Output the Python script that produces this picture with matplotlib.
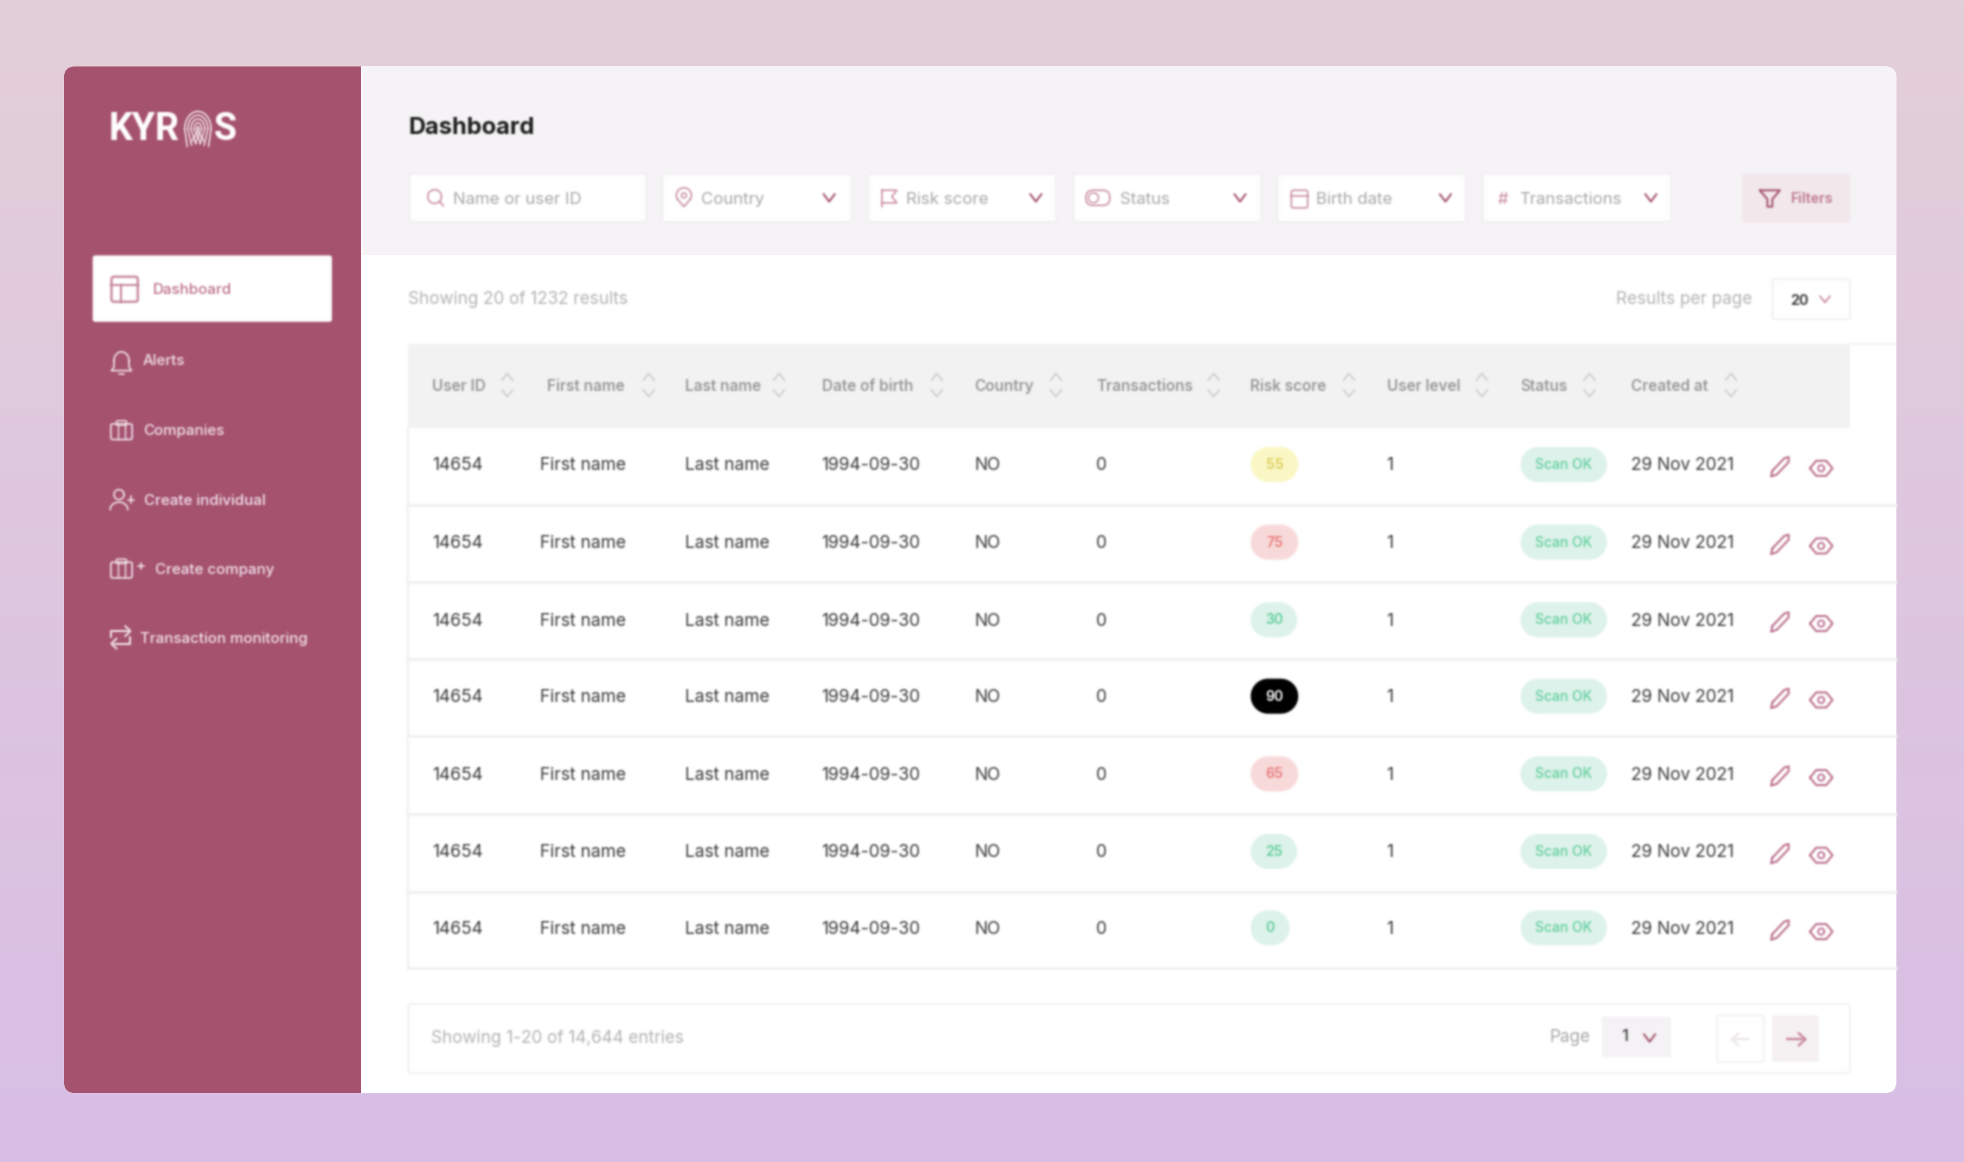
import matplotlib
matplotlib.use("Agg")
import matplotlib.pyplot as plt
import numpy as np
from matplotlib.patches import FancyBboxPatch, Rectangle, Polygon

plt.rcParams['font.family'] = ['Inter', 'DejaVu Sans']

#---------------- table content
user_ids = ["14654"] * 7
first_names = ["First name"] * 7
last_names = ["Last name"] * 7
birth_dates = ["1994-09-30"] * 7
countries = ["NO"] * 7
transactions = ["0"] * 7
risk_scores = [55, 75, 30, 90, 65, 25, 0]
user_levels = ["1"] * 7
statuses = ["Scan OK"] * 7
created = ["29 Nov 2021"] * 7

headers = ["User ID", "First name", "Last name", "Date of birth", "Country",
           "Transactions", "Risk score", "User level", "Status", "Created at"]
header_x = [345, 437, 547, 656, 778, 875, 998, 1107, 1214, 1302]
sort_x = [405, 518, 622, 748, 843, 969, 1077, 1183, 1269, 1382]
row_y = [371, 433, 495, 556, 618, 680, 741]
row_lines = [403, 465, 526, 588, 650, 712, 773]

menu_labels = ["Alerts", "Companies", "Create individual", "Create company", "Transaction monitoring"]
menu_x = [114, 114, 115, 124, 112]
menu_y = [288, 344, 400, 455, 510]

filter_labels = ["Name or user ID", "Country", "Risk score", "Status", "Birth date", "Transactions"]
filter_left = [327, 529, 693, 857, 1020, 1184]
filter_right = [516, 680, 843, 1007, 1170, 1334]
filter_text_x = [362, 560, 723, 894, 1051, 1213]
chevron_x = [662, 827, 990, 1154, 1318]

ROSE = "#a5526f"
ROSE_LT = "#c98aa2"
DARK = "#3a3a3a"
GREY = "#a8a8a8"
HEAD = "#9a9a9a"
LINE = "#f0f0f0"
GREEN_BG, GREEN_TX = "#def3ea", "#63cf9f"
RED_BG, RED_TX = "#f9dada", "#e87c7c"
YEL_BG, YEL_TX = "#fbf8c6", "#dccf5c"


def badge_colors(score):
    if score >= 80:
        return "#000000", "#ffffff"
    if score >= 60:
        return RED_BG, RED_TX
    if score >= 50:
        return YEL_BG, YEL_TX
    return GREEN_BG, GREEN_TX


#---------------- soft blur, the reference is a blurry screenshot
def gauss(a, sigma):
    r = int(3 * sigma) + 1
    k = np.exp(-0.5 * (np.arange(-r, r + 1) / sigma) ** 2)
    k = k / k.sum()
    a = np.apply_along_axis(lambda m: np.convolve(m, k, mode="same"), 0, a)
    a = np.apply_along_axis(lambda m: np.convolve(m, k, mode="same"), 1, a)
    return a


def blur(im, dpi):
    pad = 6
    im = np.pad(im, [(pad, pad), (pad, pad), (0, 0)], "constant")
    alpha = gauss(im[:, :, 3], 1.0)
    out = np.zeros_like(im)
    for c in range(3):
        out[:, :, c] = gauss(im[:, :, c] * im[:, :, 3], 1.0) / np.maximum(alpha, 1e-4)
    out[:, :, 3] = alpha
    return np.clip(out, 0, 1), -pad, -pad


fig = plt.figure(figsize=(19.64, 11.62), dpi=100)
ax = fig.add_axes([0, 0, 1, 1])
ax.axis("off")

# page background
top = np.array([0xe3, 0xcf, 0xd9]) / 255
bottom = np.array([0xd8, 0xbe, 0xe5]) / 255
grad = np.linspace(0, 1, 200)[:, None, None] * (bottom - top) + top
ax.imshow(grad, extent=(0, 1568, 928, 0), aspect="auto", zorder=0)
ax.set_xlim(0, 1568)
ax.set_ylim(928, 0)


def box(x0, y0, x1, y1, fc="white", ec="none", r=2, lw=1.0, z=3):
    p = FancyBboxPatch((x0 + r, y0 + r), x1 - x0 - 2 * r, y1 - y0 - 2 * r,
                       boxstyle="round,pad=%s,rounding_size=%s" % (r, r),
                       fc=fc, ec=ec, lw=lw, zorder=z)
    ax.add_patch(p)
    return p


def pill(x0, x1, yc, h, fc):
    r = h / 2
    t = np.radians(np.linspace(90, 270, 30))
    xs = np.concatenate([x0 + r + r * np.cos(t), x1 - r - r * np.cos(t)])
    ys = np.concatenate([yc + r * np.sin(t), yc - r * np.sin(t)])
    ax.add_patch(Polygon(np.column_stack([xs, ys]), closed=True, fc=fc, ec="none", zorder=4))


def txt(x, y, s, size=12.5, color=DARK, weight="normal", ha="left", family=None):
    kw = {}
    if family:
        kw["family"] = family
    ax.text(x, y + 1.5, s, fontsize=size, color=color, fontweight=weight, ha=ha, va="center", zorder=6, **kw)


def line(xs, ys, color=ROSE, lw=1.4):
    ax.plot(xs, ys, color=color, lw=lw, solid_capstyle="round", solid_joinstyle="round", zorder=6)


def arc(cx, cy, rx, ry, a0, a1, color=ROSE, lw=1.4):
    t = np.radians(np.linspace(a0, a1, 40))
    line(cx + rx * np.cos(t), cy + ry * np.sin(t), color, lw)


def chevron(x, y, color=ROSE, w=4.5, h=3, lw=1.4):
    line([x - w, x, x + w], [y - h, y + h, y - h], color, lw)


def outline(x0, y0, x1, y1, color=ROSE, r=2, lw=1.3):
    return box(x0, y0, x1, y1, fc="none", ec=color, r=r, lw=lw, z=6)


# card
card = box(51, 53, 1514, 873, fc="white", r=9, z=1)
top_panel = Rectangle((289, 53), 1225, 151, fc="#f5f3f5", ec="none", zorder=2)
ax.add_patch(top_panel)
top_panel.set_clip_path(card)
side = Rectangle((51, 53), 237.5, 820, fc=ROSE, ec="none", zorder=2)
ax.add_patch(side)
side.set_clip_path(card)

# logo
txt(87, 102, "KYR", size=27, color="white", weight="bold", family="Roboto")
txt(171, 102, "S", size=27, color="white", weight="bold", family="Roboto")
for k, (rx, ry) in enumerate([(10.5, 14), (8, 11), (5.5, 8), (3, 5), (1, 2)]):
    arc(158, 103, rx, ry, 180, 360, "#f3e6eb", 1.1)
    line([158 - rx, 158 - rx + 2 + k], [103, 117 - k], "#f3e6eb", 1.1)
    line([158 + rx, 158 + rx - 2 - k], [103, 117 - k], "#f3e6eb", 1.1)

# sidebar selected entry
box(74, 204, 265, 257, fc="white", r=2, z=4)
outline(89, 221, 110, 241, ROSE_LT, r=2, lw=1.7)
line([89, 110], [228, 228], ROSE_LT, 1.5)
line([97, 97], [228, 241], ROSE_LT, 1.5)
txt(122, 230, "Dashboard", size=10.8, color="#bd6d8c", weight="medium")

# sidebar entries
for s, x, y in zip(menu_labels, menu_x, menu_y):
    txt(x, y - 1, s, size=10.8, color="#f3e3ea", weight="medium")
WH = "#f0dfe6"
# bell
arc(97, 288, 6, 7, 180, 360, WH, 1.2)
line([91, 91, 89, 105, 103, 103], [288, 293, 296, 296, 293, 288], WH, 1.2)
line([95, 99], [299, 299], WH, 1.2)
# briefcases
for bx, by in [(97, 344.5), (97, 455)]:
    outline(bx - 8.5, by - 6, bx + 8.5, by + 6.5, WH, r=1.5, lw=1.2)
    outline(bx - 4, by - 8.5, bx + 4, by - 5, WH, r=1, lw=1.1)
    line([bx - 3, bx - 3], [by - 6, by + 6], WH, 1.0)
    line([bx + 3, bx + 3], [by - 6, by + 6], WH, 1.0)
line([110, 115], [452, 452], WH, 1.2)
line([112.5, 112.5], [449.5, 454.5], WH, 1.2)
# person plus
arc(95, 395, 4, 4, 0, 360, WH, 1.2)
arc(95, 407, 7, 6, 180, 360, WH, 1.2)
line([102, 107], [399, 399], WH, 1.2)
line([104.5, 104.5], [396.5, 401.5], WH, 1.2)
# repeat arrows
line([89, 89, 103], [509, 504, 504], WH, 1.5)
line([100, 104, 100], [500, 504, 508], WH, 1.5)
line([104, 104, 90], [509, 514, 514], WH, 1.5)
line([93, 89, 93], [510, 514, 518], WH, 1.5)

# heading and filters
txt(326, 100.5, "Dashboard", size=17, color="#1e1e1e", weight="bold")
for x0, x1 in zip(filter_left, filter_right):
    box(x0, 139, x1, 177, fc="white", ec="#efedef", r=1.5, lw=0.8)
for s, x in zip(filter_labels, filter_text_x):
    txt(x, 157.5, s, size=12.1, color=GREY)
for x in chevron_x:
    chevron(x, 158)

arc(347, 157, 5.5, 5.5, 0, 360, ROSE_LT, 1.1)
line([351, 354], [161, 164.5], ROSE_LT, 1.1)
# pin
arc(546, 156, 6, 6, 150, 390, ROSE_LT, 1.1)
line([540.8, 546, 551.2], [159, 165, 159], ROSE_LT, 1.1)
arc(546, 156, 2, 2, 0, 360, ROSE_LT, 1.0)
# flag
line([704, 704], [165, 152], ROSE_LT, 1.1)
line([704, 716, 712, 716, 704], [152, 152, 157, 162, 162], ROSE_LT, 1.1)
# toggle
outline(867, 152, 886, 164, ROSE_LT, r=5.5, lw=1.1)
arc(873, 158, 4, 4, 0, 360, ROSE_LT, 1.0)
# calendar
outline(1031, 152, 1044, 166, ROSE_LT, r=1.5, lw=1.1)
line([1031, 1044], [156.5, 156.5], ROSE_LT, 1.1)
# hash
txt(1200, 157.5, "#", size=12, color=ROSE_LT, ha="center")

# filters button
box(1391, 139, 1477, 178, fc="#f3e8ec", r=2)
line([1405, 1421, 1415, 1415, 1411, 1411, 1405], [152, 152, 159, 165, 165, 159, 152], ROSE, 1.4)
txt(1429, 157.5, "Filters", size=10, color="#c4849c", weight="bold")

# results row
txt(326, 238, "Showing 20 of 1232 results", size=12.3, color="#b4b4b4")
txt(1290, 238, "Results per page", size=12.3, color="#b4b4b4")
box(1415, 223, 1477, 255, fc="white", ec="#ececec", r=2, lw=0.9)
txt(1429, 238.5, "20", size=10.3, color="#444444", weight="bold")
chevron(1457, 239, ROSE_LT, 4, 2.5, 1.2)

# table
ax.add_patch(Rectangle((326, 275), 1151, 67, fc="#f3f3f3", ec="none", zorder=3))
line([1477, 1514], [275, 275], LINE, 1.2)
line([326, 326], [342, 773], LINE, 1.5)
for y in row_lines:
    ax.plot([326, 1514], [y, y], color=LINE, lw=1.8, zorder=3)
for s, x, sx in zip(headers, header_x, sort_x):
    txt(x, 307, s, size=11, color=HEAD, weight="semibold")
    chevron(sx, 301, "#c8c8c8", 4.5, -2.8, 1.0)
    chevron(sx, 314, "#c8c8c8", 4.5, 2.8, 1.0)

for i, y in enumerate(row_y):
    txt(345, y - 0.5, user_ids[i])
    txt(431, y - 0.5, first_names[i])
    txt(547, y - 0.5, last_names[i])
    txt(656, y - 0.5, birth_dates[i])
    txt(778, y - 0.5, countries[i])
    txt(875, y - 0.5, transactions[i])
    txt(1107, y - 0.5, user_levels[i])
    txt(1302, y - 0.5, created[i])

    # risk badge, width depends on the number
    score = risk_scores[i]
    bg, fg = badge_colors(score)
    w = 38 if score != 0 else 31
    if score == 25 or score == 30:
        w = 37
    pill(998.5, 998.5 + w, y, 28, bg)
    txt(998.5 + w / 2, y - 1, str(score), size=10, color=fg, weight="semibold", ha="center")

    pill(1214, 1283, y, 28, GREEN_BG)
    txt(1248.5, y - 1, statuses[i], size=10, color=GREEN_TX, weight="medium", ha="center")

    # pencil
    px, py = 1421, y + 2
    line([px - 6, px + 3.5, px + 7, px + 7, px - 2.5, px - 7, px - 6],
         [py + 3, py - 7, py - 8, py - 4, py + 6, py + 7.5, py + 3], "#bb6c8b", 1.4)
    # eye
    ex, ey = 1454, y + 3
    line([ex - 9, ex - 4, ex + 4, ex + 9, ex + 4, ex - 4, ex - 9],
         [ey, ey - 6, ey - 6, ey, ey + 6, ey + 6, ey], "#bb6c8b", 1.4)
    arc(ex, ey, 2.5, 2.5, 0, 360, "#bb6c8b", 1.2)

# footer
box(326, 802, 1477, 857, fc="white", ec="#eeeeee", r=2, lw=1.0)
txt(344, 828, "Showing 1-20 of 14,644 entries", size=12.3, color="#b4b4b4")
txt(1237, 827, "Page", size=12.3, color="#a8a8a8")
box(1279, 812, 1334, 844, fc="#f5f3f5", r=1.5)
txt(1294, 826.5, "1", size=12, color="#444444", weight="medium")
chevron(1317, 829, ROSE, 4.5, 3, 1.4)
box(1371, 811, 1408, 848, fc="white", ec="#efefef", r=1.5, lw=1.0)
line([1383, 1396], [830, 830], "#ece4e8", 1.4)
line([1388, 1383, 1388], [825, 830, 835], "#ece4e8", 1.4)
box(1415, 811, 1452, 848, fc="#f6f0f2", r=1.5)
line([1427, 1441], [830, 830], ROSE_LT, 1.7)
line([1436, 1441, 1436], [825, 830, 835], ROSE_LT, 1.7)

# blur everything except the page and card shapes
for a in list(ax.patches) + list(ax.lines) + list(ax.texts):
    if a not in (card, side, top_panel):
        a.set_agg_filter(blur)

fig.savefig("out.png", dpi=100)
